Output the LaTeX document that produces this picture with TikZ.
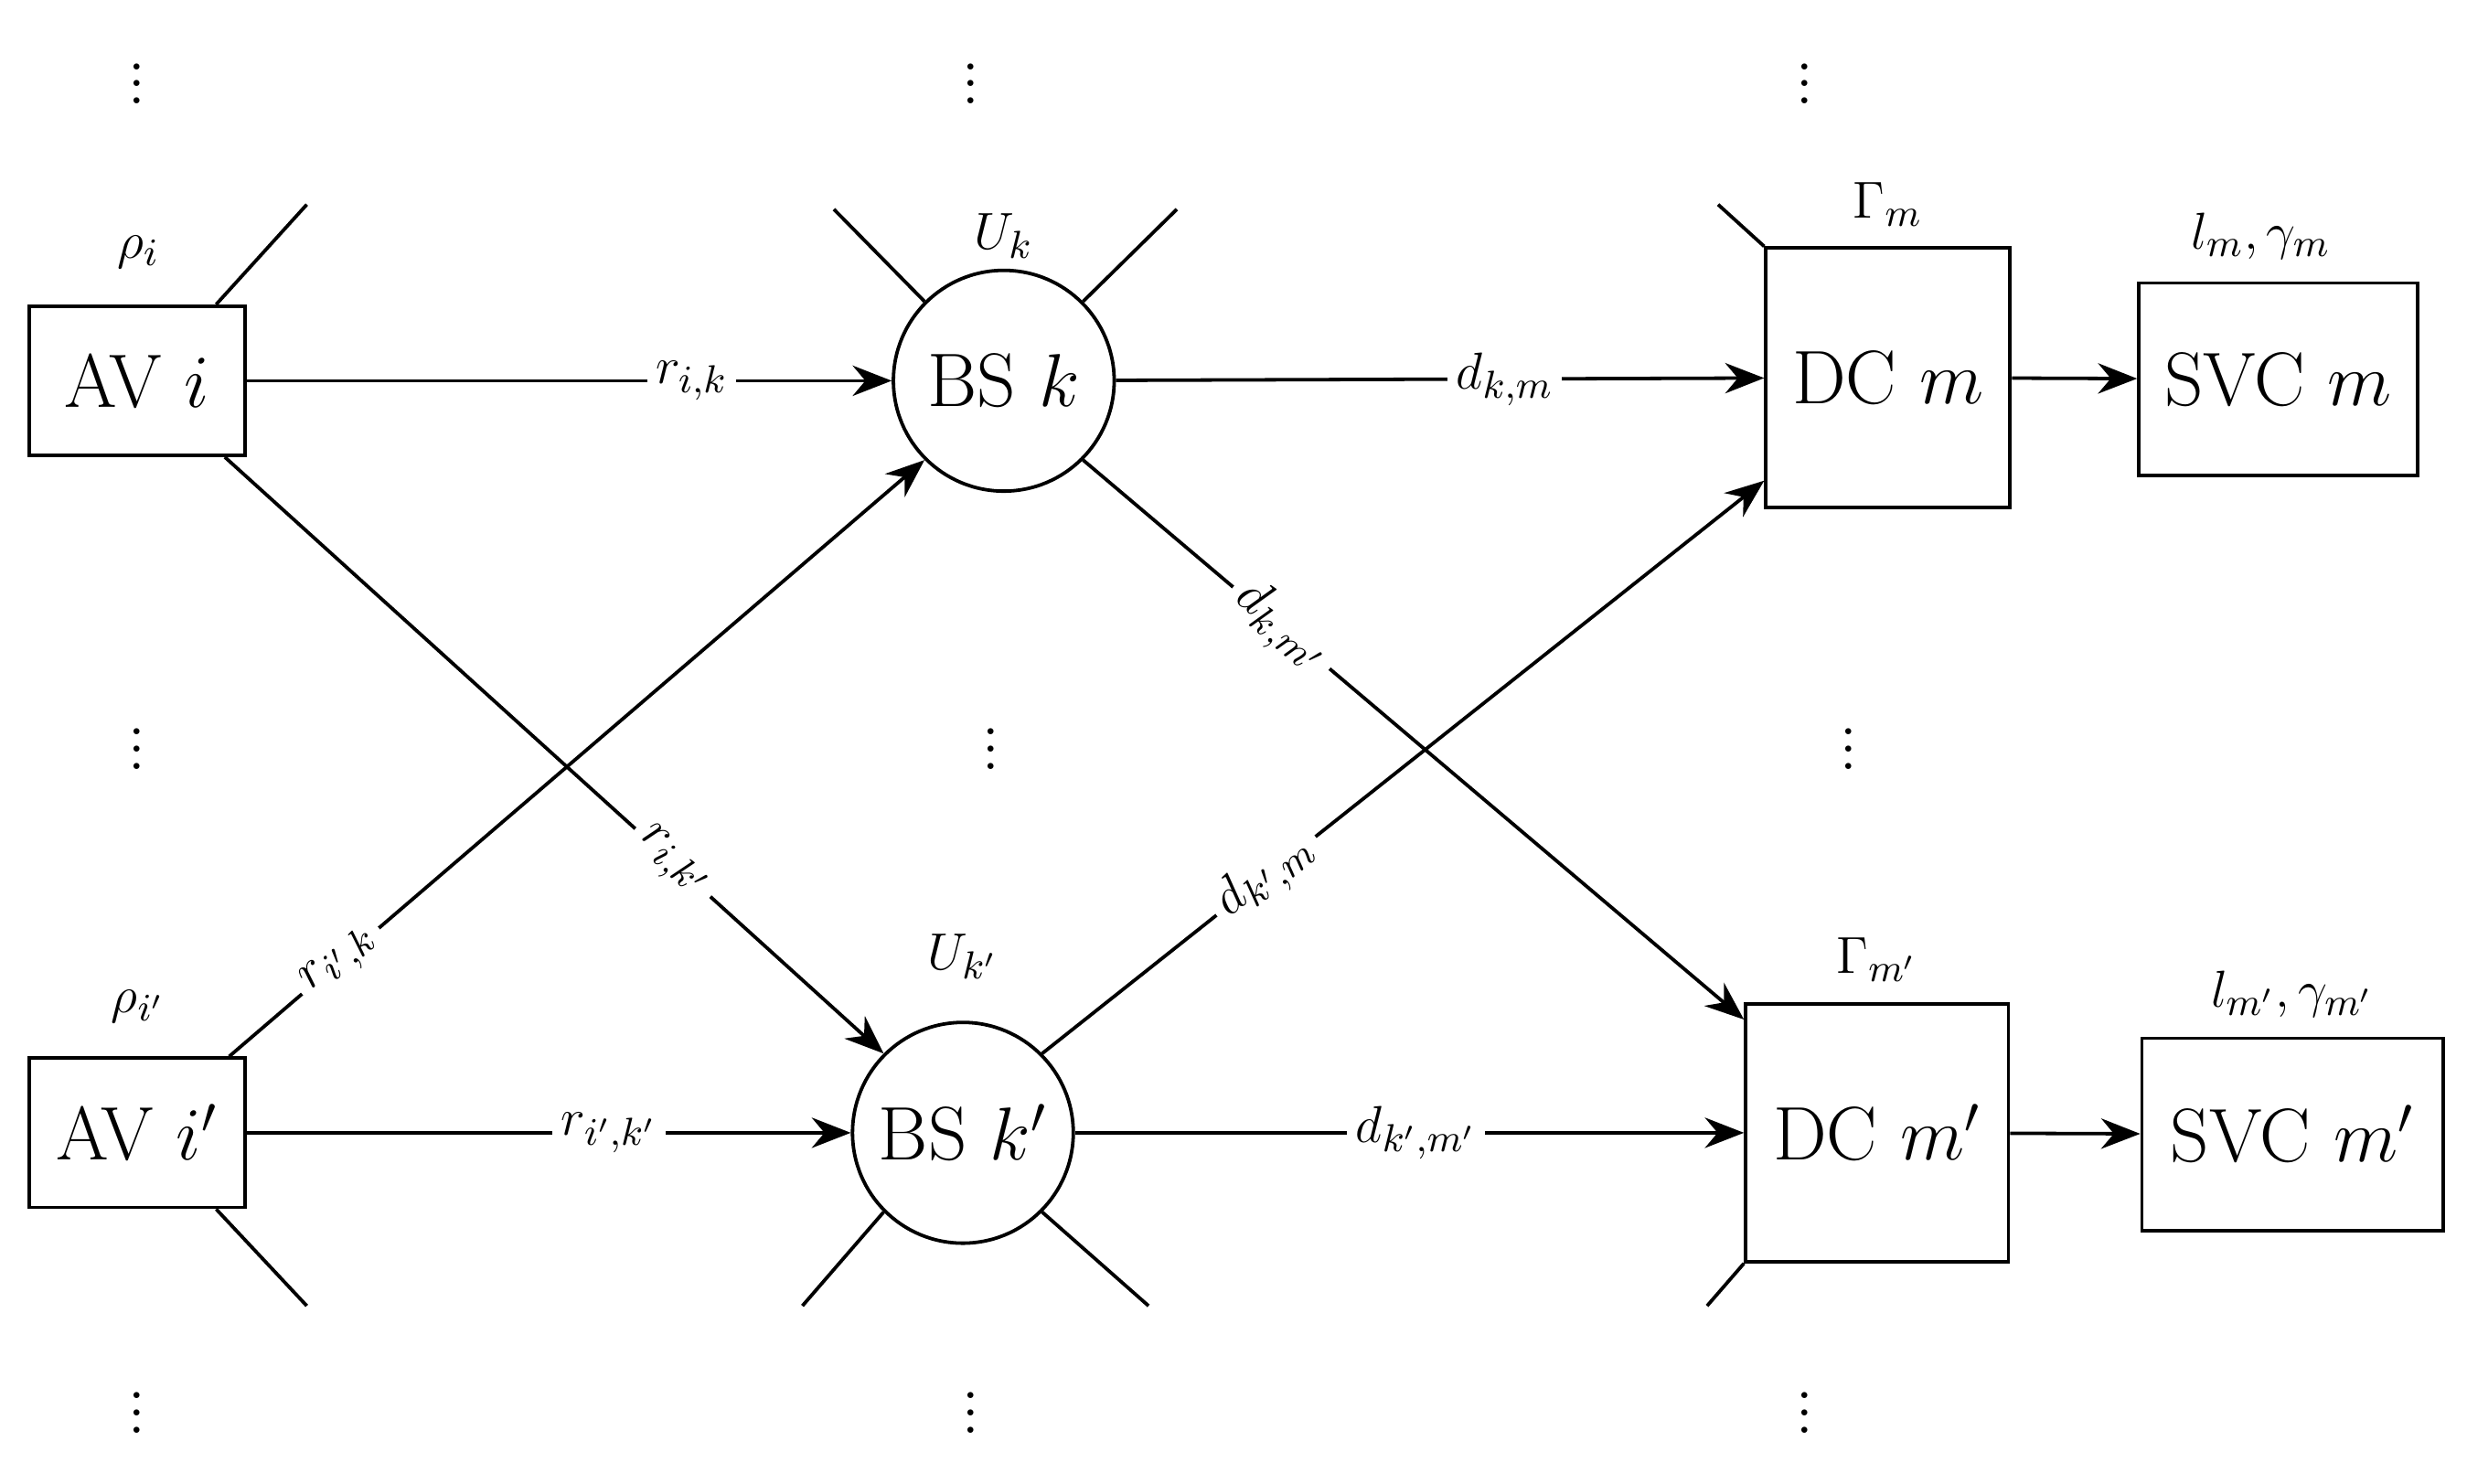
\documentclass[tikz,border=0pt]{standalone}
\usetikzlibrary{arrows.meta}
\begin{document}
\begin{tikzpicture}[x=0.01275cm,y=-0.01275cm,
  big/.style={font=\fontsize{17.5}{20}\selectfont},
  lab/.style={font=\fontsize{12.5}{15}\selectfont},
  box/.style={draw,thick,big,inner sep=0pt},
  bs/.style={draw,thick,circle,big,minimum size=1.79cm,inner sep=0pt},
  arr/.style={thick,-{Stealth[length=9pt,width=7pt]}},
  stub/.style={thick},
  tag/.style={lab,fill=white,inner sep=2pt},
  vd/.style={font=\Large}]
\useasboundingbox (0,0) rectangle (1568,943);
% nodes
\node[box,minimum width=1.75cm,minimum height=1.21cm] (avi) at (87,242) {AV $i$};
\node[box,minimum width=1.75cm,minimum height=1.21cm] (avj) at (87,720) {AV $i'$};
\node[bs] (bsk) at (638,242) {BS $k$};
\node[bs] (bsj) at (612,720) {BS $k'$};
\node[box,minimum width=1.98cm,minimum height=2.1cm] (dcm) at (1200,240) {DC $m$};
\node[box,minimum width=2.13cm,minimum height=2.09cm] (dcj) at (1193,720) {DC $m'$};
\node[box,minimum width=2.26cm,minimum height=1.56cm] (svm) at (1448,241) {SVC $m$};
\node[box,minimum width=2.44cm,minimum height=1.56cm] (svj) at (1457,721) {SVC $m'$};
% labels above
\node[lab] (l1) at (88,160) {$\rho_i$};
\node[lab] (l2) at (88,640) {$\rho_{i'}$};
\node[lab] (l3) at (638,150) {$U_k$};
\node[lab] (l4) at (612,608) {$U_{k'}$};
\node[lab] (l5) at (1200,130) {$\Gamma_m$};
\node[lab] (l6) at (1193,610) {$\Gamma_{m'}$};
\node[lab] (l7) at (1437,150) {$l_m,\gamma_m$};
\node[lab] (l8) at (1457,632) {$l_{m'},\gamma_{m'}$};
% stubs
\coordinate (s1) at (195,130);
\coordinate (s2) at (195,830);
\coordinate (s3) at (530,133);
\coordinate (s4) at (748,133);
\coordinate (s5) at (510,830);
\coordinate (s6) at (730,830);
\coordinate (s7) at (1092,130);
\coordinate (s8) at (1085,830);
\draw[stub] ([xshift=-7pt]avi.north east) -- (s1);
\draw[stub] ([xshift=-7pt]avj.south east) -- (s2);
\draw[stub] (bsk.135) -- (s3);
\draw[stub] (bsk.45) -- (s4);
\draw[stub] (bsj.225) -- (s5);
\draw[stub] (bsj.-45) -- (s6);
\draw[stub] (dcm.north west) -- (s7);
\draw[stub] (dcj.south west) -- (s8);
% connectors
\draw[arr] (avi) -- node[tag,pos=0.69] {$r_{i,k}$} (bsk);
\draw[arr] ([xshift=-5pt]avi.south east) -- node[tag,sloped,pos=0.68] {$r_{i,k'}$} (bsj.135);
\draw[arr] ([xshift=-4pt]avj.north east) -- node[tag,sloped,pos=0.16] {$r_{i',k}$} (bsk.225);
\draw[arr] (avj) -- node[tag,pos=0.6] {$r_{i',k'}$} (bsj);
\draw[arr] (bsk) -- node[tag,pos=0.6] {$d_{k,m}$} (dcm);
\draw[arr] (bsk.-45) -- node[tag,sloped,pos=0.3] {$d_{k,m'}$} ([yshift=-4pt]dcj.north west);
\draw[arr] (bsj.45) -- node[tag,sloped,pos=0.31] {$d_{k',m}$} ([yshift=6.5pt]dcm.south west);
\draw[arr] (bsj) -- node[tag,pos=0.51] {$d_{k',m'}$} (dcj);
\draw[arr] (dcm) -- (svm);
\draw[arr] (dcj) -- (svj);
% vdots
\node[vd] (v1) at (87,45) {$\vdots$};
\node[vd] (v2) at (617,45) {$\vdots$};
\node[vd] (v3) at (1147,45) {$\vdots$};
\node[vd] (v4) at (87,468) {$\vdots$};
\node[vd] (v5) at (630,468) {$\vdots$};
\node[vd] (v6) at (1175,468) {$\vdots$};
\node[vd] (v7) at (87,890) {$\vdots$};
\node[vd] (v8) at (617,890) {$\vdots$};
\node[vd] (v9) at (1147,890) {$\vdots$};
\end{tikzpicture}
\end{document}
